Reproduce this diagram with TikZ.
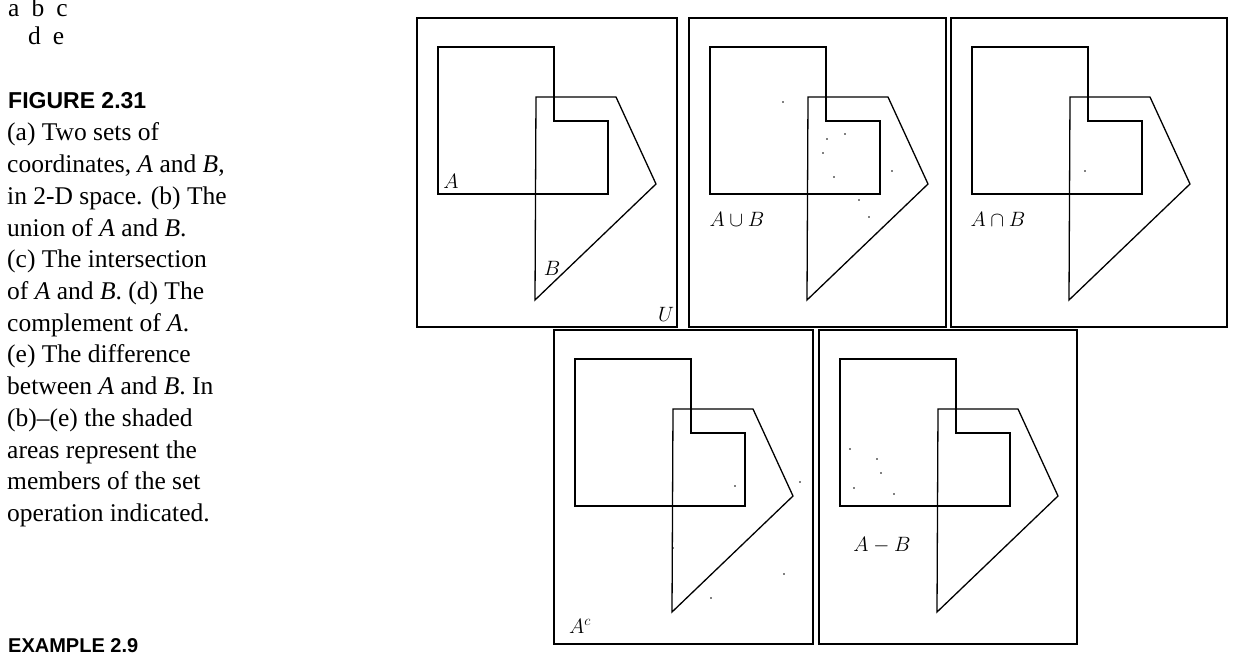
\documentclass[tikz,border=0pt]{standalone}
\usepackage{fontspec}
\setmainfont{Liberation Serif}
\newfontfamily\capsans{Liberation Sans}
\begin{document}
\begin{tikzpicture}[x=1pt,y=-1pt,
  frame/.style={draw=black,line width=1.1pt},
  setline/.style={draw=black,line width=1.3pt,line join=miter},
  captxt/.style={anchor=base west,inner sep=0pt,font=\fontsize{25.5}{25.5}\selectfont},
  lab/.style={inner sep=0pt,font=\fontsize{22}{22}\selectfont},
  dotm/.style={fill=black,inner sep=0pt,minimum size=1.8pt,circle}]
\clip (0,0) rectangle (1248,655);
\useasboundingbox (0,0) rectangle (1248,655);
\fill[white] (0,0) rectangle (1248,655);
% caption
\node[captxt] (t0) at (8,17) {a\hspace{12pt}b\hspace{12pt}c};
\node[captxt] (t1) at (28,45) {d\hspace{12pt}e};
\node[anchor=base west,inner sep=0pt,font=\capsans\bfseries\fontsize{23}{23}\selectfont] (fig) at (8,109) {FIGURE 2.31};
\foreach \t [count=\i from 0] in {{(a) Two sets of},{coordinates, \textit{A} and \textit{B},},{in 2-D space. (b) The},{union of \textit{A} and \textit{B}.},{(c) The intersection},{of \textit{A} and \textit{B}. (d) The},{complement of \textit{A}.},{(e) The difference},{between \textit{A} and \textit{B}. In},{(b)--(e) the shaded},{areas represent the},{members of the set},{operation indicated.}}
  \node[captxt] (c\i) at (7,{141+31.7*\i}) {\t};
\node[anchor=base west,inner sep=0pt,font=\capsans\bfseries\fontsize{20}{20}\selectfont] (ex) at (8,652) {EXAMPLE 2.9};
% panels
\newcommand{\panel}[4]{%
 \begin{scope}[shift={(#1,#2)}]
  \draw[frame] (0,0) rectangle (#3,#4);
  \draw[setline] (21,29) -- (137,29) -- (137,103) -- (191,103) -- (191,176) -- (21,176) -- cycle;
  \draw[setline] (119,79) -- (199,79) -- (239,166) -- (118,282) -- cycle;
 \end{scope}}
\panel{417}{18}{260}{309}
\panel{689}{18}{257}{309}
\panel{951}{18}{276}{309}
\panel{554}{330}{259}{314}
\panel{819}{330}{258}{314}
% labels
\node[lab] (la) at (451,181) {$A$};
\node[lab] (lb) at (552,268) {$B$};
\node[lab] (lu) at (666,314) {$U$};
\node[lab] (lun) at (737,219) {$A\cup B$};
\node[lab] (lin) at (998,219) {$A\cap B$};
\node[lab] (lc) at (580,626) {$A^{c}$};
\node[lab] (ld) at (882,545) {$A-B$};
% sparse shading dots
\foreach \p in {(783,102),(827,139),(845,134),(823,153),(834,177),(892,171),(859,200),(869,217)}
  \node[dotm] at \p {};
\foreach \p in {(1085,171)}
  \node[dotm] at \p {};
\foreach \p in {(735,486),(673,548),(784,574),(711,598),(800,482)}
  \node[dotm] at \p {};
\foreach \p in {(850,449),(877,459),(881,473),(854,488),(894,494)}
  \node[dotm] at \p {};
\end{tikzpicture}
\end{document}
